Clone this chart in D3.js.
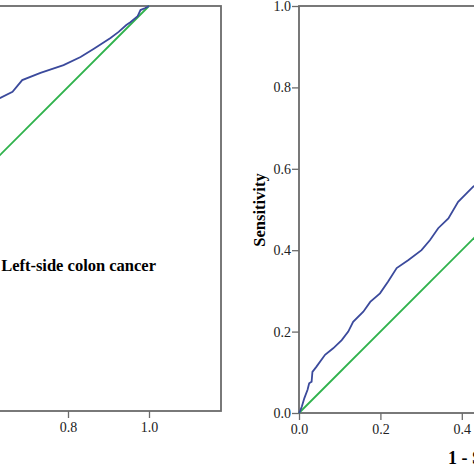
<!DOCTYPE html>
<html><head><meta charset="utf-8">
<script src="https://cdn.jsdelivr.net/npm/d3@7"></script>
<style>body{margin:0;background:#fff}svg{display:block}svg text{font-family:"Liberation Serif","Times New Roman",serif !important}</style>
</head><body><svg id="c" width="474" height="474"></svg>
<script>
const ticks = [0, 0.2, 0.4, 0.6, 0.8, 1.0];
const leftFpr = [0, 0.435, 0.559, 0.633, 0.663, 0.687, 0.732, 0.789, 0.831, 0.863, 0.905, 0.925, 0.944, 0.954, 0.972, 0.979, 0.991, 1];
const leftTpr = [0, 0.731, 0.756, 0.773, 0.788, 0.817, 0.835, 0.854, 0.874, 0.894, 0.921, 0.936, 0.953, 0.960, 0.975, 0.990, 0.995, 1];
const rightFpr = [0, 0.002, 0.007, 0.013, 0.021, 0.025, 0.031, 0.033, 0.043, 0.064, 0.084, 0.105, 0.121, 0.133, 0.158, 0.175, 0.199, 0.219, 0.240, 0.269, 0.301, 0.322, 0.342, 0.367, 0.391, 0.428, 0.47, 0.55, 0.65, 0.8, 1];
const rightTpr = [0, 0.003, 0.016, 0.036, 0.057, 0.073, 0.077, 0.101, 0.114, 0.143, 0.159, 0.179, 0.200, 0.224, 0.249, 0.273, 0.294, 0.323, 0.356, 0.376, 0.400, 0.425, 0.454, 0.478, 0.519, 0.556, 0.59, 0.65, 0.73, 0.86, 1];
const leftLabel = "Left-side colon cancer";
const xTitle = "1 - Specificity";
const yTitle = "Sensitivity";

const svg = d3.select("#c");
const grey = "#6b6b6b", blue = "#3b4a9c", green = "#2fb24c";
const serif = '"Liberation Serif","Times New Roman",serif';

function panel(xr, yr, fpr, tpr, opts) {
  const x = d3.scaleLinear().domain([0, 1]).range(xr);
  const y = d3.scaleLinear().domain([0, 1]).range(yr);
  const g = svg.append("g");
  const xa = g.append("g").attr("transform", `translate(0,${yr[0]})`)
    .call(d3.axisBottom(x).tickValues(ticks).tickFormat(d3.format(".1f")).tickSize(7).tickPadding(4));
  const ya = g.append("g").attr("transform", `translate(${xr[0]},0)`)
    .call(d3.axisLeft(y).tickValues(ticks).tickFormat(d3.format(".1f")).tickSize(7).tickPadding(1));
  [xa, ya].forEach(a => {
    a.attr("font-family", serif).attr("font-size", 14);
    a.select(".domain").remove();
    a.selectAll("line").attr("stroke", grey).attr("stroke-width", 1.3);
    a.selectAll("text").attr("fill", "#222");
  });
  g.append("rect").attr("x", xr[0]).attr("y", yr[1]).attr("width", opts.w).attr("height", yr[0] - yr[1])
    .attr("fill", "none").attr("stroke", grey).attr("stroke-width", 1.8);
  g.append("line").attr("x1", x(0)).attr("y1", y(0)).attr("x2", x(1)).attr("y2", y(1))
    .attr("stroke", green).attr("stroke-width", 1.8);
  const line = d3.line().x((d, i) => x(fpr[i])).y((d, i) => y(tpr[i]));
  g.append("path").datum(fpr).attr("d", line).attr("fill", "none").attr("stroke", blue).attr("stroke-width", 1.8);
  return {x, y};
}

panel([-256, 149], [411, 6], leftFpr, leftTpr, {w: 477});
panel([299, 706], [413, 6], rightFpr, rightTpr, {w: 500});

svg.append("text").attr("x", 156).attr("y", 271).attr("text-anchor", "end").attr("font-family", serif)
  .attr("font-size", 16.5).attr("font-weight", "bold").text(leftLabel);
svg.append("text").attr("x", 448).attr("y", 464).attr("font-family", serif)
  .attr("font-size", 18).attr("font-weight", "bold").text(xTitle);
svg.append("text").attr("transform", "translate(265,210) rotate(-90)").attr("text-anchor", "middle").attr("font-family", serif)
  .attr("font-size", 16.5).attr("font-weight", "bold").text(yTitle);
</script></body></html>
